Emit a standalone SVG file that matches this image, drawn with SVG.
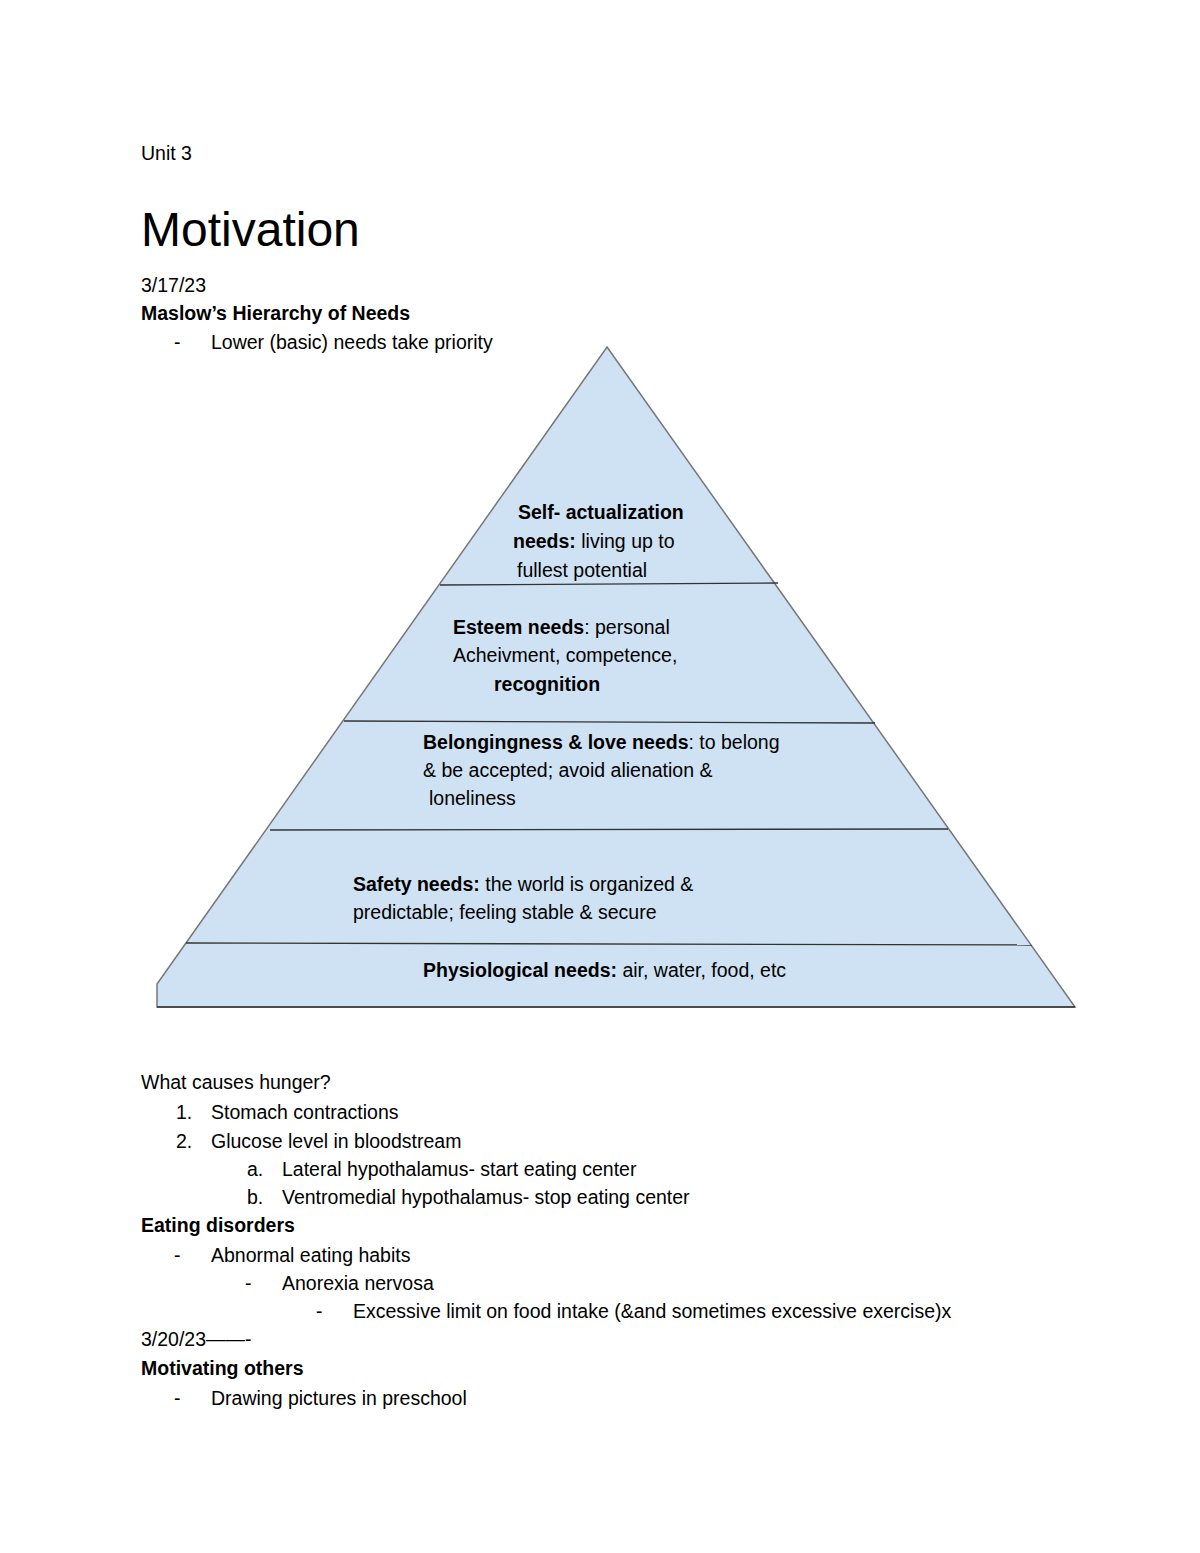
<svg xmlns="http://www.w3.org/2000/svg" width="1200" height="1553" viewBox="0 0 1200 1553">
<style>
text{font-family:"Liberation Sans",Arial,sans-serif;font-size:19.5px;fill:#000}
.b{font-weight:bold}
.d{stroke:#333;stroke-width:1.3}
</style>
<rect width="1200" height="1553" fill="#fff"/>
<text x="141" y="160">Unit 3</text>
<text x="141" y="246" style="font-size:48px">Motivation</text>
<text x="141" y="292">3/17/23</text>
<text x="141" y="320" class="b">Maslow’s Hierarchy of Needs</text>
<text x="174" y="349">-</text><text x="211" y="349">Lower (basic) needs take priority</text>
<g id="pyramid">
<polygon points="607,347 1075,1007 157,1007 157,984" fill="#cfe2f3" stroke="#777" stroke-width="1.5"/>
</g>
<g id="dividers">
<line class="d" x1="440" y1="585" x2="778" y2="583"/>
<line class="d" x1="344" y1="721" x2="875" y2="723"/>
<line class="d" x1="270" y1="830" x2="948" y2="829"/>
<line class="d" x1="186" y1="943" x2="1032" y2="945"/>
<line class="d" x1="157" y1="1007" x2="1075" y2="1007"/>
</g>
<g id="self"><text x="518" y="519" class="b">Self- actualization</text><text x="513" y="548"><tspan class="b">needs:</tspan> living up to</text><text x="517" y="577">fullest potential</text></g>
<g id="esteem"><text x="453" y="634"><tspan class="b">Esteem needs</tspan>: personal</text><text x="453" y="662">Acheivment, competence,</text><text x="494" y="691" class="b">recognition</text></g>
<g id="belong"><text x="423" y="749"><tspan class="b">Belongingness &amp; love needs</tspan>: to belong</text><text x="423" y="777">&amp; be accepted; avoid alienation &amp;</text><text x="429" y="805">loneliness</text></g>
<g id="safety"><text x="353" y="891"><tspan class="b">Safety needs:</tspan> the world is organized &amp;</text><text x="353" y="919">predictable; feeling stable &amp; secure</text></g>
<g id="phys"><text x="423" y="977"><tspan class="b">Physiological needs:</tspan> air, water, food, etc</text></g>
<text x="141" y="1089">What causes hunger?</text>
<text x="176" y="1119">1.</text><text x="211" y="1119">Stomach contractions</text>
<text x="176" y="1148">2.</text><text x="211" y="1148">Glucose level in bloodstream</text>
<text x="247" y="1176">a.</text><text x="282" y="1176">Lateral hypothalamus- start eating center</text>
<text x="247" y="1204">b.</text><text x="282" y="1204">Ventromedial hypothalamus- stop eating center</text>
<text x="141" y="1232" class="b">Eating disorders</text>
<text x="174" y="1262">-</text><text x="211" y="1262">Abnormal eating habits</text>
<text x="245" y="1290">-</text><text x="282" y="1290">Anorexia nervosa</text>
<text x="316" y="1318">-</text><text x="353" y="1318">Excessive limit on food intake (&amp;and sometimes excessive exercise)x</text>
<text x="141" y="1346">3/20/23——-</text>
<text x="141" y="1375" class="b">Motivating others</text>
<text x="174" y="1405">-</text><text x="211" y="1405">Drawing pictures in preschool</text>
</svg>
